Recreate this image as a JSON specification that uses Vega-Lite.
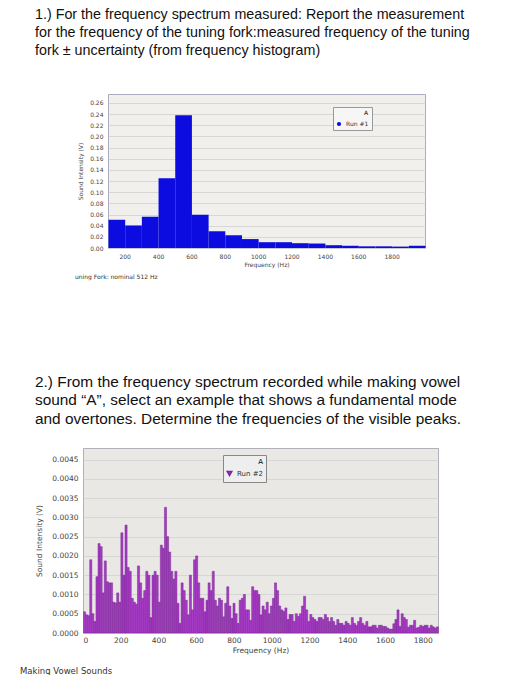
{
 "$schema": "https://vega.github.io/schema/vega-lite/v6.json",
 "background": "white",
 "padding": {"left": 20, "top": 8, "right": 0, "bottom": 0},
 "spacing": 94,
 "title": {"text": "Making Vowel Sounds", "orient": "bottom", "anchor": "start", "frame": "group", "dx": -63, "offset": 12, "fontSize": 8.5, "font": "DejaVu Sans", "color": "#333333"},
 "resolve": {"scale": {"color": "independent"}, "legend": {"color": "independent"}},
 "config": {
  "font": "DejaVu Sans",
  "title": {"font": "Liberation Sans", "fontWeight": "normal", "color": "#111111"},
  "axis": {"labelColor": "#444444", "titleColor": "#444444", "titleFontWeight": "normal", "domain": false, "ticks": false, "gridColor": "#d0d0d0", "gridWidth": 0.8},
  "legend": {"titleFontWeight": "normal"}
 },
 "vconcat": [
  {
   "title": {"text": ["1.) For the frequency spectrum measured: Report the measurement", "for the frequency of the tuning fork:measured frequency of the tuning", "fork ± uncertainty (from frequency histogram)"], "anchor": "start", "frame": "group", "dx": -48, "offset": 35, "fontSize": 14.3, "lineHeight": 18},
   "vconcat": [
    {
     "title": {"text": "uning Fork: nominal 512 Hz", "orient": "bottom", "anchor": "start", "frame": "group", "dx": -8, "offset": 6, "fontSize": 6, "font": "DejaVu Sans", "color": "#333333"},
     "spacing": -7,
     "hconcat": [
      {
       "width": 1,
       "height": 154,
       "view": {"stroke": null, "fill": null},
       "data": {"values": []},
       "mark": {"type": "text"},
       "encoding": {}
      },
      {
       "width": 317,
       "height": 154,
       "view": {"fill": "#f1f0ec", "stroke": "#a9adbf"},
       "data": {"values": [
        {"f": 100, "v": 0.0506}, {"f": 200, "v": 0.0404}, {"f": 300, "v": 0.056}, {"f": 400, "v": 0.125},
        {"f": 500, "v": 0.238}, {"f": 600, "v": 0.0596}, {"f": 700, "v": 0.030}, {"f": 800, "v": 0.023},
        {"f": 900, "v": 0.016}, {"f": 1000, "v": 0.0104}, {"f": 1100, "v": 0.0104}, {"f": 1200, "v": 0.0086},
        {"f": 1300, "v": 0.008}, {"f": 1400, "v": 0.005}, {"f": 1500, "v": 0.004}, {"f": 1600, "v": 0.003},
        {"f": 1700, "v": 0.003}, {"f": 1800, "v": 0.0025}, {"f": 1900, "v": 0.004}
       ]},
       "mark": {"type": "bar", "binSpacing": 0},
       "encoding": {
        "x": {"field": "f", "type": "quantitative", "bin": {"binned": true, "step": 100},
              "scale": {"domain": [100, 2000], "nice": false, "zero": false},
              "axis": {"values": [200, 400, 600, 800, 1000, 1200, 1400, 1600, 1800], "format": "d", "title": "Frequency (Hz)", "labelFontSize": 6, "titleFontSize": 6, "labelPadding": 5, "titlePadding": 2}},
        "y": {"field": "v", "type": "quantitative",
              "scale": {"domain": [0, 0.276], "nice": false},
              "axis": {"values": [0, 0.02, 0.04, 0.06, 0.08, 0.1, 0.12, 0.14, 0.16, 0.18, 0.2, 0.22, 0.24, 0.26], "format": ".2f", "title": "Sound Intensity (V)", "labelFontSize": 6, "titleFontSize": 6, "labelPadding": 5, "titlePadding": 6}},
        "color": {"datum": "Run #1", "scale": {"range": ["#0c0ce0"]},
                  "legend": {"orient": "none", "legendX": 250, "legendY": 13, "title": "A", "titleAnchor": "end", "titleFontSize": 6, "labelFontSize": 6, "symbolType": "circle", "symbolSize": 18, "fillColor": "#f6f6f6", "strokeColor": "#999999", "padding": 3, "labelColor": "#333333"}}
       }
      }
     ]
    }
   ]
  },
  {
   "vconcat": [
    {
     "title": {"text": ["2.) From the frequency spectrum recorded while making vowel", "sound “A”, select an example that shows a fundamental mode", "and overtones. Determine the frequencies of the visible peaks."], "anchor": "start", "frame": "group", "dx": -48, "offset": 21, "fontSize": 15.4, "lineHeight": 18.5},
     "width": 355,
     "height": 185,
     "view": {"fill": "#e9e8e4", "stroke": "#b0b0b8"},
     "data": {"values": [
      {"f": 0, "v": 0.00055}, {"f": 11, "v": 0.00047}, {"f": 22, "v": 0.00045}, {"f": 33, "v": 0.0019}, {"f": 44, "v": 0.0005},
      {"f": 55, "v": 0.0003}, {"f": 66, "v": 0.00146}, {"f": 77, "v": 0.00232}, {"f": 88, "v": 0.00224}, {"f": 99, "v": 0.00104},
      {"f": 110, "v": 0.00187}, {"f": 121, "v": 0.00133}, {"f": 132, "v": 0.0013}, {"f": 143, "v": 0.0013}, {"f": 154, "v": 0.0008},
      {"f": 165, "v": 0.00078}, {"f": 176, "v": 0.00104}, {"f": 187, "v": 0.0008}, {"f": 198, "v": 0.0026}, {"f": 209, "v": 0.0015},
      {"f": 220, "v": 0.0028}, {"f": 231, "v": 0.0017}, {"f": 242, "v": 0.0016}, {"f": 253, "v": 0.0009}, {"f": 264, "v": 0.0008},
      {"f": 275, "v": 0.00075}, {"f": 286, "v": 0.00174}, {"f": 297, "v": 0.0013}, {"f": 308, "v": 0.0009}, {"f": 319, "v": 0.0011},
      {"f": 330, "v": 0.0016}, {"f": 341, "v": 0.0015}, {"f": 352, "v": 0.0004}, {"f": 363, "v": 0.0015}, {"f": 374, "v": 0.0016},
      {"f": 385, "v": 0.0015}, {"f": 396, "v": 0.0008}, {"f": 407, "v": 0.00228}, {"f": 418, "v": 0.0022}, {"f": 429, "v": 0.00326},
      {"f": 440, "v": 0.0025}, {"f": 451, "v": 0.0021}, {"f": 462, "v": 0.0016}, {"f": 473, "v": 0.0014}, {"f": 484, "v": 0.0016},
      {"f": 495, "v": 0.00077}, {"f": 506, "v": 0.00025}, {"f": 517, "v": 0.0013}, {"f": 528, "v": 0.0011}, {"f": 539, "v": 0.00085},
      {"f": 550, "v": 0.00047}, {"f": 561, "v": 0.0015}, {"f": 572, "v": 0.0006}, {"f": 583, "v": 0.0019}, {"f": 594, "v": 0.002},
      {"f": 605, "v": 0.0013}, {"f": 616, "v": 0.0009}, {"f": 627, "v": 0.0009}, {"f": 638, "v": 0.00055}, {"f": 649, "v": 0.00085},
      {"f": 660, "v": 0.0013}, {"f": 671, "v": 0.0011}, {"f": 682, "v": 0.0016}, {"f": 693, "v": 0.00085}, {"f": 704, "v": 0.0007},
      {"f": 715, "v": 0.0009}, {"f": 726, "v": 0.00085}, {"f": 737, "v": 0.00042}, {"f": 748, "v": 0.00077}, {"f": 759, "v": 0.0012},
      {"f": 770, "v": 0.0007}, {"f": 781, "v": 0.00038}, {"f": 792, "v": 0.00077}, {"f": 803, "v": 0.0005}, {"f": 814, "v": 0.00025},
      {"f": 825, "v": 0.00085}, {"f": 836, "v": 0.0009}, {"f": 847, "v": 0.001}, {"f": 858, "v": 0.0006}, {"f": 869, "v": 0.0006},
      {"f": 880, "v": 0.00033}, {"f": 891, "v": 0.0012}, {"f": 902, "v": 0.0011}, {"f": 913, "v": 0.0011}, {"f": 924, "v": 0.001},
      {"f": 935, "v": 0.00047}, {"f": 946, "v": 0.0007}, {"f": 957, "v": 0.0006}, {"f": 968, "v": 0.0008}, {"f": 979, "v": 0.0005},
      {"f": 990, "v": 0.0007}, {"f": 1001, "v": 0.0009}, {"f": 1012, "v": 0.0013}, {"f": 1023, "v": 0.0011}, {"f": 1034, "v": 0.0007},
      {"f": 1045, "v": 0.0006}, {"f": 1056, "v": 0.00056}, {"f": 1067, "v": 0.00065}, {"f": 1078, "v": 0.00035}, {"f": 1089, "v": 0.00048},
      {"f": 1100, "v": 0.00048}, {"f": 1111, "v": 0.0003}, {"f": 1122, "v": 0.0005}, {"f": 1133, "v": 0.00043}, {"f": 1144, "v": 0.0005},
      {"f": 1155, "v": 0.0007}, {"f": 1166, "v": 0.00095}, {"f": 1177, "v": 0.0006}, {"f": 1188, "v": 0.0003}, {"f": 1199, "v": 0.00048},
      {"f": 1210, "v": 0.0004}, {"f": 1221, "v": 0.00035}, {"f": 1232, "v": 0.0003}, {"f": 1243, "v": 0.0004}, {"f": 1254, "v": 0.0004},
      {"f": 1265, "v": 0.00035}, {"f": 1276, "v": 0.00048}, {"f": 1287, "v": 0.0004}, {"f": 1298, "v": 0.0003}, {"f": 1309, "v": 0.0004},
      {"f": 1320, "v": 0.0003}, {"f": 1331, "v": 0.0002}, {"f": 1342, "v": 0.00035}, {"f": 1353, "v": 0.00025}, {"f": 1364, "v": 0.00025},
      {"f": 1375, "v": 0.0002}, {"f": 1386, "v": 0.0003}, {"f": 1397, "v": 0.00025}, {"f": 1408, "v": 0.0002}, {"f": 1419, "v": 0.0004},
      {"f": 1430, "v": 0.00025}, {"f": 1441, "v": 0.0002}, {"f": 1452, "v": 0.0003}, {"f": 1463, "v": 0.0004}, {"f": 1474, "v": 0.00025},
      {"f": 1485, "v": 0.0002}, {"f": 1496, "v": 0.0003}, {"f": 1507, "v": 0.00016}, {"f": 1518, "v": 0.00016}, {"f": 1529, "v": 0.0002},
      {"f": 1540, "v": 0.0002}, {"f": 1551, "v": 0.00013}, {"f": 1562, "v": 0.0002}, {"f": 1573, "v": 0.0002}, {"f": 1584, "v": 0.00017},
      {"f": 1595, "v": 0.00017}, {"f": 1606, "v": 0.00013}, {"f": 1617, "v": 0.0001}, {"f": 1628, "v": 0.0001}, {"f": 1639, "v": 0.00024},
      {"f": 1650, "v": 0.00035}, {"f": 1661, "v": 0.0006}, {"f": 1672, "v": 0.00017}, {"f": 1683, "v": 0.0005}, {"f": 1694, "v": 0.0004},
      {"f": 1705, "v": 0.00035}, {"f": 1716, "v": 0.00015}, {"f": 1727, "v": 0.0002}, {"f": 1738, "v": 0.0002}, {"f": 1749, "v": 0.00033},
      {"f": 1760, "v": 0.00013}, {"f": 1771, "v": 0.00015}, {"f": 1782, "v": 0.0002}, {"f": 1793, "v": 0.00017}, {"f": 1804, "v": 0.0002},
      {"f": 1815, "v": 0.0002}, {"f": 1826, "v": 0.00013}, {"f": 1837, "v": 0.0002}, {"f": 1848, "v": 0.00016}, {"f": 1859, "v": 0.00013},
      {"f": 1870, "v": 0.00016}
     ]},
     "mark": {"type": "bar", "binSpacing": 0, "stroke": "#7a2496", "strokeWidth": 0.5},
     "encoding": {
      "x": {"field": "f", "type": "quantitative", "bin": {"binned": true, "step": 11},
            "scale": {"domain": [0, 1881], "nice": false},
            "axis": {"values": [0, 200, 400, 600, 800, 1000, 1200, 1400, 1600, 1800], "format": "d", "title": "Frequency (Hz)", "labelFontSize": 7.5, "titleFontSize": 7.5, "labelPadding": 3, "titlePadding": 3}},
      "y": {"field": "v", "type": "quantitative",
            "scale": {"domain": [0, 0.0048], "nice": false},
            "axis": {"values": [0, 0.0005, 0.001, 0.0015, 0.002, 0.0025, 0.003, 0.0035, 0.004, 0.0045], "format": ".4f", "title": "Sound Intensity (V)", "labelFontSize": 7.5, "titleFontSize": 7.5, "labelPadding": 5, "titlePadding": 8}},
      "color": {"datum": "Run #2", "scale": {"range": ["#a63cc4"]},
                "legend": {"orient": "none", "legendX": 140, "legendY": 7, "title": "A", "titleAnchor": "end", "titleFontSize": 7, "labelFontSize": 7, "symbolType": "triangle-down", "symbolSize": 20, "fillColor": "#eeeeee", "strokeColor": "#888888", "padding": 3, "labelColor": "#333333"}}
     }
    }
   ]
  }
 ]
}
